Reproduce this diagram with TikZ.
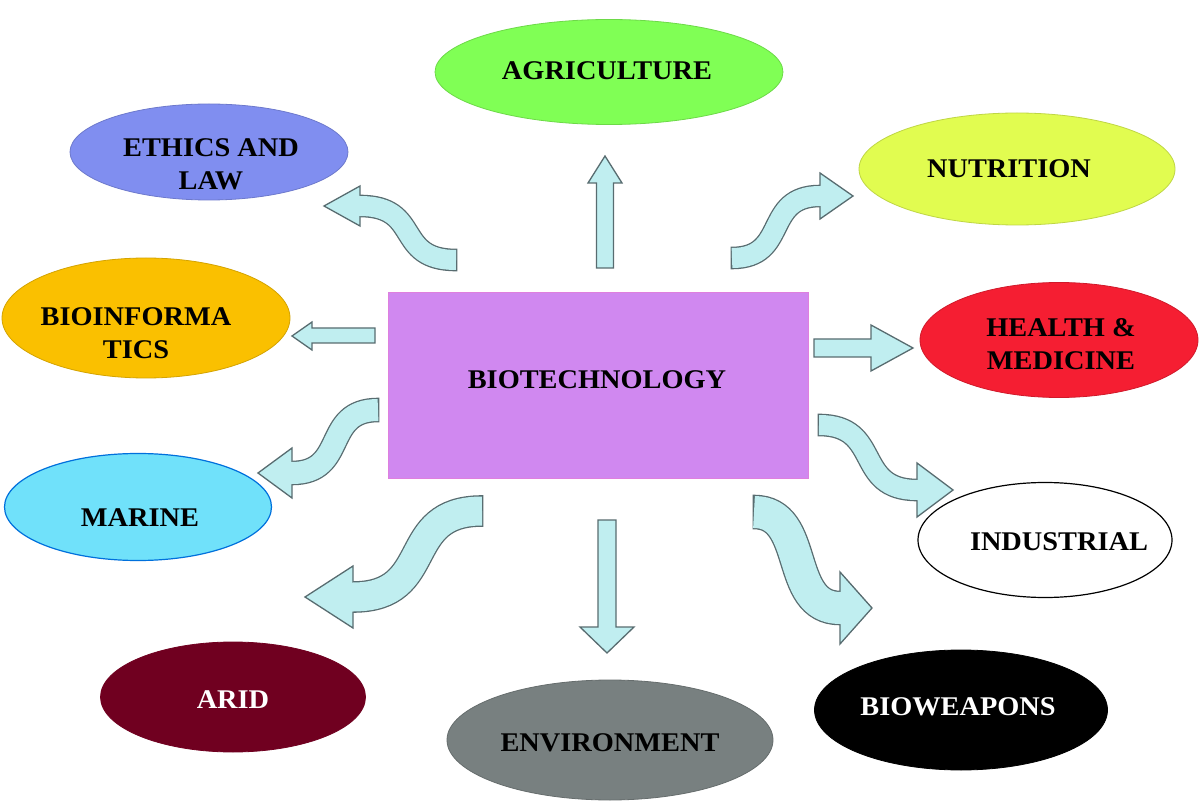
\documentclass[tikz,border=0pt]{standalone}
\usepackage{fontspec}
\setmainfont{Liberation Serif}[FakeStretch=1.05]
\usetikzlibrary{shapes.geometric}
\definecolor{arrowfill}{RGB}{192,238,240}
\definecolor{arrowedge}{RGB}{88,108,112}
\definecolor{rectfill}{RGB}{208,136,240}
\definecolor{rectedge}{RGB}{222,128,222}
\definecolor{cAgri}{RGB}{128,255,85}
\definecolor{cEthics}{RGB}{128,142,240}
\definecolor{cNutri}{RGB}{225,252,80}
\definecolor{cBioinf}{RGB}{250,192,0}
\definecolor{cHealth}{RGB}{245,30,50}
\definecolor{cMarine}{RGB}{112,225,250}
\definecolor{cMarineEdge}{RGB}{0,112,220}
\definecolor{cArid}{RGB}{112,0,32}
\definecolor{cEnv}{RGB}{120,128,128}
\tikzset{
  field/.style={ellipse, inner sep=0pt, line width=0.8pt},
  lab/.style={font=\bfseries\fontsize{27}{33}\selectfont, align=center, inner sep=0pt},
  arrowbody/.style={fill=arrowfill, draw=arrowedge, line width=1.3pt, line join=miter},
}
% wavy arrow: tail x, tail y, head-base x, head-base y, direction (+1/-1), shaft width, head half-width, head length
\newcommand{\wavyarr}[8]{%
  \pgfmathsetmacro{\cA}{#1+0.65*(#3-#1)}%
  \pgfmathsetmacro{\cB}{#3-0.65*(#3-#1)}%
  \pgfmathsetmacro{\tS}{#1-#5*1.3}%
  \pgfmathsetmacro{\bE}{#3+#5*6}%
  \pgfmathsetmacro{\tipx}{#3+#5*#8}%
  \pgfmathsetmacro{\wo}{#6+2.6}%
  \pgfmathsetmacro{\bU}{#4-#7}%
  \pgfmathsetmacro{\bD}{#4+#7}%
  \draw[line width=\wo pt, color=arrowedge] (\tS,#2) -- (#1,#2) .. controls (\cA,#2) and (\cB,#4) .. (#3,#4) -- (\bE,#4);
  \filldraw[arrowbody] (#3,\bU) -- (\tipx,#4) -- (#3,\bD) -- cycle;
  \draw[line width=#6pt, color=arrowfill] (#1,#2) .. controls (\cA,#2) and (\cB,#4) .. (#3,#4) -- (\bE,#4);
}
\begin{document}
\begin{tikzpicture}[x=1pt,y=-1pt]
\useasboundingbox (0,0) rectangle (1200,810);
\fill[white] (0,0) rectangle (1200,810);

% central rectangle
\node[draw=rectedge, fill=rectfill, line width=1pt, minimum width=420pt, minimum height=185pt, inner sep=0pt] (bio) at (598,385.5) {};
\node[lab] (bio-t) at (597,380) {BIOTECHNOLOGY};

% fields
\node[field, fill=cAgri, draw=cAgri!85!black, minimum width=348pt, minimum height=105pt] (agri) at (609,72) {};
\node[lab] (agri-t) at (607,71) {AGRICULTURE};

\node[field, fill=cEthics, draw=cEthics!85!black, minimum width=278pt, minimum height=96pt] (eth) at (209,152) {};
\node[lab] (eth-t) at (211,164) {ETHICS AND\\LAW};

\node[field, fill=cNutri, draw=cNutri!85!black, minimum width=316pt, minimum height=112pt] (nut) at (1017,169) {};
\node[lab] (nut-t) at (1009,169) {NUTRITION};

\node[field, fill=cBioinf, draw=cBioinf!85!black, minimum width=288pt, minimum height=120pt] (binf) at (146,318) {};
\node[lab] (binf-t) at (136,333) {BIOINFORMA\\TICS};

\node[field, fill=cHealth, draw=cHealth!85!black, minimum width=278pt, minimum height=115pt] (hea) at (1059,340) {};
\node[lab] (hea-t) at (1061,344) {HEALTH \&\\MEDICINE};

\node[field, fill=cMarine, draw=cMarineEdge, line width=1.2pt, minimum width=267pt, minimum height=107pt] (mar) at (138,507) {};
\node[lab] (mar-t) at (140,518) {MARINE};

\node[field, fill=white, draw=black, line width=1.2pt, minimum width=254pt, minimum height=115pt] (ind) at (1045,540) {};
\node[lab] (ind-t) at (1059,542) {INDUSTRIAL};

\node[field, fill=cArid, draw=cArid, minimum width=265pt, minimum height=110pt] (ari) at (233,697) {};
\node[lab, text=white] (ari-t) at (233,700) {ARID};

\node[field, fill=cEnv, draw=cEnv!85!black, minimum width=326pt, minimum height=120pt] (env) at (610,740) {};
\node[lab] (env-t) at (610,743) {ENVIRONMENT};

\node[field, fill=black, draw=black, minimum width=293pt, minimum height=120pt] (bw) at (961,710) {};
\node[lab, text=white] (bw-t) at (958,707) {BIOWEAPONS};

% straight arrows
\filldraw[arrowbody] (596.5,268) -- (596.5,183) -- (588,183) -- (605,156) -- (622,183) -- (613.5,183) -- (613.5,268) -- cycle;
\filldraw[arrowbody] (375,328) -- (312,328) -- (312,322) -- (292,336) -- (312,350) -- (312,343) -- (375,343) -- cycle;
\filldraw[arrowbody] (814,339) -- (871,339) -- (871,325) -- (913,348) -- (871,371) -- (871,357) -- (814,357) -- cycle;
\filldraw[arrowbody] (598,520) -- (598,627) -- (580,627) -- (607,653) -- (634,627) -- (616,627) -- (616,520) -- cycle;

% wavy arrows
\wavyarr{456}{260}{360}{206}{-1}{20}{20}{36}
\wavyarr{732}{258}{820}{196}{1}{20}{23}{33}
\wavyarr{378}{410}{292}{473}{-1}{22}{25}{34}
\wavyarr{482}{511}{353}{597}{-1}{29}{31}{48}
\wavyarr{754}{512}{840}{608}{1}{32}{36}{32}
\wavyarr{819}{425}{917}{490}{1}{20}{27}{36}
\end{tikzpicture}
\end{document}
